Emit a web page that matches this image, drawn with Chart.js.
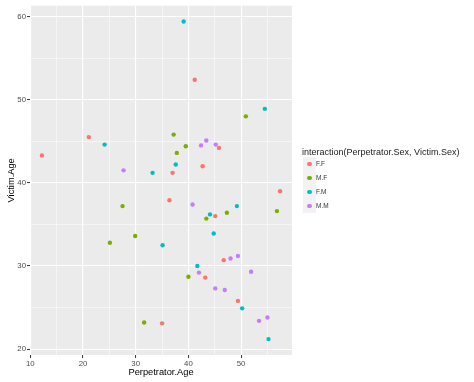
<!DOCTYPE html>
<html><head><meta charset="utf-8">
<script src="https://cdn.jsdelivr.net/npm/chart.js@4/dist/chart.umd.min.js"></script>
<style>
html,body{margin:0;padding:0;background:#fff;}
#wrap{position:relative;width:474px;height:382px;}
canvas{position:absolute;left:0;top:0;}
#legend{position:absolute;left:0;top:0;font-family:"Liberation Sans",Arial,sans-serif;color:#1a1a1a;}
.lt{position:absolute;white-space:nowrap;font-size:9px;line-height:12px;}
.key{position:absolute;width:13px;height:14px;background:#f2f2f2;}
.dot{position:absolute;width:4.4px;height:4.4px;border-radius:50%;}
.lab{position:absolute;white-space:nowrap;font-size:6.5px;line-height:14px;color:#333;}
</style></head>
<body>
<div id="wrap"><canvas id="c" width="474" height="382"></canvas><div id="legend"></div></div>
<script>
// ---- data ----
const seriesNames = ['F.F', 'M.F', 'F.M', 'M.M'];
const legendTitle = 'interaction(Perpetrator.Sex, Victim.Sex)';
const xTitle = 'Perpetrator.Age';
const yTitle = 'Victim.Age';
const xTickLabels = [10, 20, 30, 40, 50];
const yTickLabels = [20, 30, 40, 50, 60];

const ffX = [41.2, 21.1, 12.2, 45.8, 42.7, 37.0, 57.4, 36.4, 45.1, 46.7, 43.2, 49.4, 35.0];
const ffY = [52.4, 45.5, 43.3, 44.2, 42.0, 41.2, 39.0, 37.9, 36.0, 30.7, 28.6, 25.8, 23.1];

const mfX = [50.9, 37.2, 39.5, 37.8, 27.5, 56.8, 47.3, 43.4, 29.9, 25.1, 40.0, 31.6];
const mfY = [48.0, 45.8, 44.4, 43.6, 37.2, 36.6, 36.4, 35.7, 33.6, 32.8, 28.7, 23.2];

const fmX = [39.1, 54.5, 24.1, 37.6, 33.2, 49.2, 44.1, 44.8, 35.1, 41.7, 50.2, 55.2];
const fmY = [59.4, 48.9, 44.6, 42.2, 41.2, 37.2, 36.2, 33.9, 32.5, 30.0, 24.9, 21.2];

const mmX = [43.4, 42.4, 45.2, 27.7, 40.8, 48.0, 49.4, 51.9, 42.0, 45.1, 46.9, 53.4, 55.0];
const mmY = [45.1, 44.5, 44.6, 41.5, 37.4, 30.9, 31.2, 29.3, 29.2, 27.3, 27.1, 23.4, 23.8];

// ---- styles ----
const seriesColors = ['#F8766D', '#7CAE00', '#00BFC4', '#C77CFF'];
const FONT = '"Liberation Sans", Arial, sans-serif';

const xs = [ffX, mfX, fmX, mmX];
const ys = [ffY, mfY, fmY, mmY];
const datasets = seriesNames.map((n, i) => ({
  label: n,
  data: xs[i].map((x, j) => ({x: x, y: ys[i][j]})),
  backgroundColor: seriesColors[i],
  borderWidth: 0,
  pointRadius: 2.2,
  pointHoverRadius: 2.2
}));

const allX = [].concat(...xs), allY = [].concat(...ys);
function expand(arr) {
  const mn = Math.min(...arr), mx = Math.max(...arr), d = (mx - mn) * 0.05;
  return [mn - d, mx + d];
}
const [xMin, xMax] = expand(allX);
const [yMin, yMax] = expand(allY);

const bgPlugin = {
  id: 'panelbg',
  beforeDraw(chart) {
    const {ctx, chartArea: a} = chart;
    ctx.save();
    ctx.fillStyle = '#EBEBEB';
    ctx.fillRect(a.left, a.top, a.right - a.left, a.bottom - a.top);
    ctx.restore();
  }
};

function axis(isX) {
  const labels = isX ? xTickLabels : yTickLabels;
  const isMajor = v => labels.includes(Math.round(v * 1000) / 1000);
  return {
    type: 'linear',
    min: isX ? xMin : yMin,
    max: isX ? xMax : yMax,
    afterFit(s) { if (isX) s.height = 27; else s.width = 30; },
    border: {display: false},
    grid: {
      color: '#FFFFFF',
      lineWidth: c => isMajor(c.tick.value) ? 1.1 : 0.5,
      tickColor: c => isMajor(c.tick.value) ? '#333333' : 'rgba(0,0,0,0)',
      tickWidth: 1,
      tickLength: 3,
      drawTicks: true
    },
    ticks: {
      stepSize: 5,
      includeBounds: false,
      autoSkip: false,
      maxRotation: 0,
      padding: 1,
      color: '#4D4D4D',
      font: {family: FONT, size: 7.8},
      callback: v => isMajor(v) ? String(v) : ''
    },
    title: {
      display: true,
      text: isX ? xTitle : yTitle,
      color: '#000000',
      font: {family: FONT, size: 9.3},
      padding: isX ? {top: 0, bottom: 3.7} : {top: 5.5, bottom: 0}
    }
  };
}

new Chart(document.getElementById('c'), {
  type: 'scatter',
  data: {datasets},
  options: {
    responsive: false,
    animation: false,
    layout: {padding: {left: 0, top: 4, right: 182, bottom: 0}},
    plugins: {legend: {display: false}, tooltip: {enabled: false}},
    scales: {x: axis(true), y: axis(false)}
  },
  plugins: [bgPlugin]
});

// ---- legend (HTML text) ----
const lg = document.getElementById('legend');
const t = document.createElement('div');
t.className = 'lt'; t.textContent = legendTitle;
t.style.left = '302px'; t.style.top = '146px';
lg.appendChild(t);
seriesNames.forEach((n, i) => {
  const top = 157 + i * 14;
  const k = document.createElement('div');
  k.className = 'key'; k.style.left = '303px'; k.style.top = top + 'px';
  lg.appendChild(k);
  const d = document.createElement('div');
  d.className = 'dot'; d.style.background = seriesColors[i];
  d.style.left = (309.5 - 2.2) + 'px'; d.style.top = (top + 7 - 2.2) + 'px';
  lg.appendChild(d);
  const l = document.createElement('div');
  l.className = 'lab'; l.textContent = n;
  l.style.left = '316px'; l.style.top = top + 'px';
  lg.appendChild(l);
});
</script>
</body></html>
